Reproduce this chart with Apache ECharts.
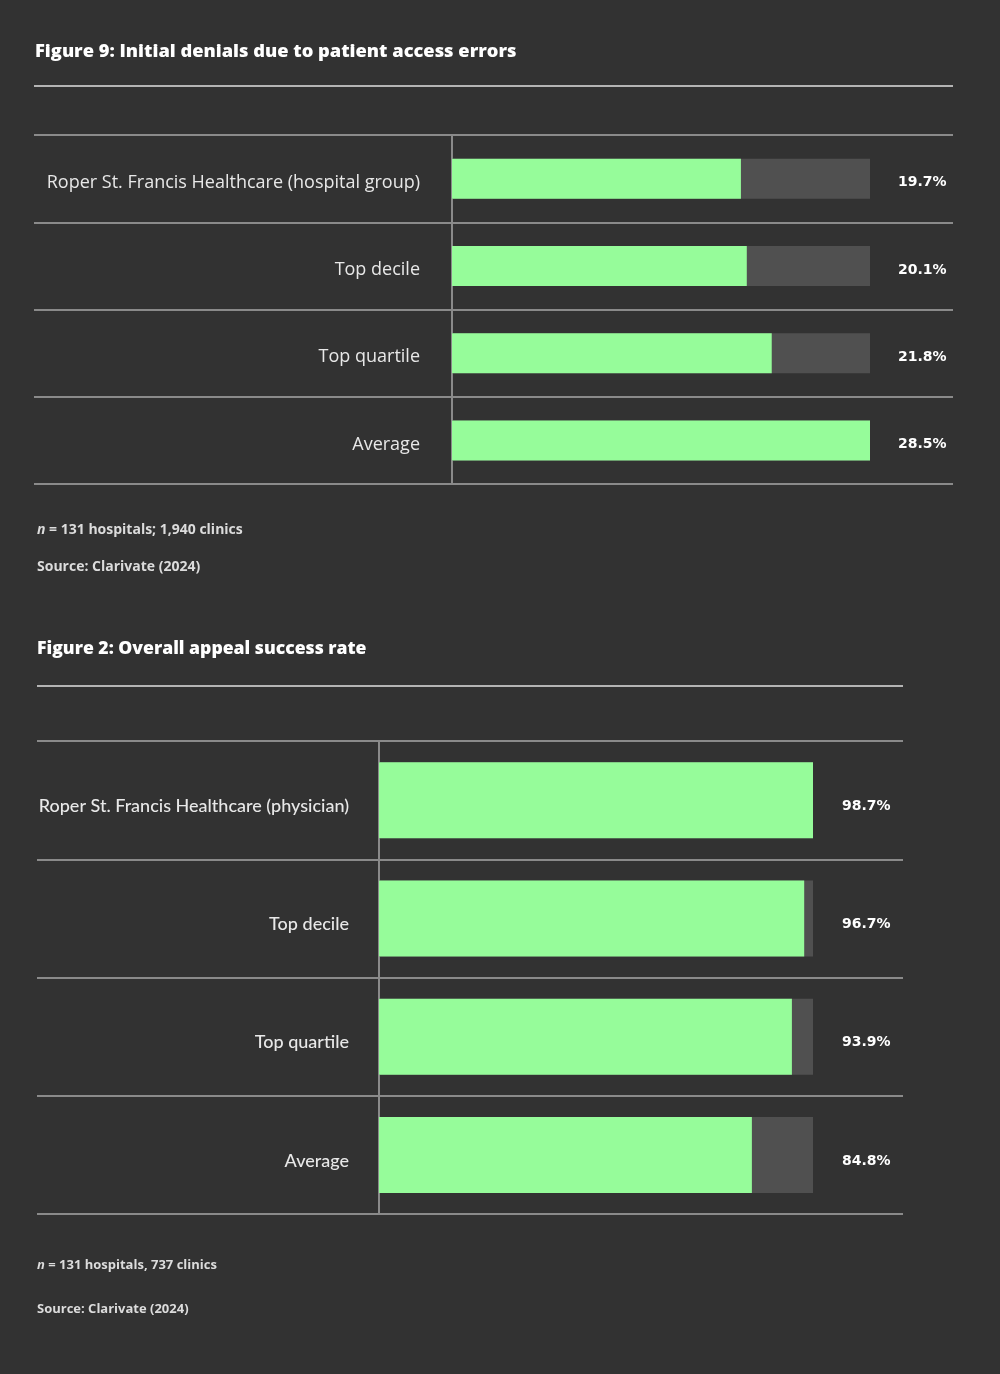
<!DOCTYPE html>
<html>
<head>
<meta charset="utf-8">
<script src="https://cdn.jsdelivr.net/npm/echarts@6/dist/echarts.min.js"></script>
<style>
html,body{margin:0;padding:0;background:#323232;}
#c{width:1000px;height:1374px;}
</style>
</head>
<body>
<div id="c"></div>
<script>
// ---- data ----
const cats1 = ['Roper St. Francis Healthcare (hospital group)', 'Top decile', 'Top quartile', 'Average'];
const vals1 = [19.7, 20.1, 21.8, 28.5];
const cats2 = ['Roper St. Francis Healthcare (physician)', 'Top decile', 'Top quartile', 'Average'];
const vals2 = [98.7, 96.7, 93.9, 84.8];
const title1 = 'Figure 9: Initial denials due to patient access errors';
const title2 = 'Figure 2: Overall appeal success rate';
const note1 = '131 hospitals; 1,940 clinics';
const note2 = '131 hospitals, 737 clinics';
const source = 'Source: Clarivate (2024)';

// ---- layout ----
const L1 = {axisX: 452, trackRight: 870, lineLeft: 34, lineRight: 953, top: 135, bottom: 484, barWidth: 40, labelRight: 420, valueX: 898,
  labelFont: {fontSize: 18, fontFamily: 'Open Sans', fontWeight: 500}, shift: 4};
const L2 = {axisX: 379, trackRight: 813, lineLeft: 37, lineRight: 903, top: 741, bottom: 1214, barWidth: 76, labelRight: 349, valueX: 842,
  labelFont: {fontSize: 18, fontFamily: 'Lato', fontWeight: 500}, shift: 6};

const GREEN = '#96fc9a', TRACK = '#505050', SEP = '#8a8a8a', TXT = '#e8e8e8', NOTE = '#dcdcdc';

function build(idx, cats, vals, L) {
  const vmax = Math.max(...vals);
  const axisMax = vmax * (L.lineRight - L.axisX) / (L.trackRight - L.axisX);
  const grid = {left: L.axisX, width: L.lineRight - L.axisX, top: L.top, height: L.bottom - L.top, containLabel: false};
  const xAxis = {gridIndex: idx, type: 'value', min: 0, max: axisMax, show: false};
  const yAxis = {
    gridIndex: idx, type: 'category', data: cats, inverse: true,
    axisLine: {show: true, lineStyle: {color: SEP, width: 2}},
    axisTick: {show: true, interval: 0, length: L.axisX - L.lineLeft, lineStyle: {color: SEP, width: 2}},
    splitLine: {show: true, interval: 0, lineStyle: {color: SEP, width: 2}},
    axisLabel: Object.assign({margin: L.axisX - L.labelRight, color: TXT, interval: 0,
      verticalAlign: 'top', lineHeight: L.shift * 2}, L.labelFont)
  };
  const track = {
    type: 'bar', xAxisIndex: idx, yAxisIndex: idx, barWidth: L.barWidth, barGap: '-100%',
    data: cats.map(() => vmax), itemStyle: {color: TRACK}, silent: true,
    label: {show: true, position: 'right', distance: L.valueX - L.trackRight, offset: [0, L.shift],
      formatter: p => vals[p.dataIndex].toFixed(1) + '%',
      color: '#ffffff', fontSize: 14, fontWeight: 'bold', fontFamily: 'DejaVu Sans'}
  };
  const bars = {
    type: 'bar', xAxisIndex: idx, yAxisIndex: idx, barWidth: L.barWidth, barGap: '-100%',
    data: vals, itemStyle: {color: GREEN}, z: 3
  };
  return {grid, xAxis, yAxis, series: [track, bars]};
}

const a = build(0, cats1, vals1, L1);
const b = build(1, cats2, vals2, L2);

function hline(x1, x2, y, color) {
  return {type: 'line', shape: {x1, y1: y, x2, y2: y}, style: {stroke: color, lineWidth: 2}, silent: true};
}
function text(x, y, t, font, color) {
  return {type: 'text', x, y, style: {text: t, fill: color, font, verticalAlign: 'middle'}, silent: true};
}
function note(x, y, t, size) {
  return {type: 'text', x, y, style: {
    text: '{i|n} = ' + t,
    rich: {i: {fontStyle: 'italic', fontSize: size, fontFamily: 'Open Sans', fill: NOTE, fontWeight: 'bold'}},
    fill: NOTE, font: 'bold ' + size + 'px "Open Sans"', verticalAlign: 'middle'}, silent: true};
}

const chart = echarts.init(document.getElementById('c'), null, {renderer: 'canvas'});
chart.setOption({
  backgroundColor: '#323232',
  animation: false,
  grid: [a.grid, b.grid],
  xAxis: [a.xAxis, b.xAxis],
  yAxis: [a.yAxis, b.yAxis],
  series: [...a.series, ...b.series],
  graphic: [
    text(35, 52, title1, '800 18.3px "Open Sans"', '#ffffff'),
    hline(L1.lineLeft, L1.lineRight, 86, '#b4b4b4'),
    note(37, 530, note1, 14),
    text(37, 567, source, 'bold 14px "Open Sans"', NOTE),
    text(37, 649, title2, '800 17.6px "Open Sans"', '#ffffff'),
    hline(L2.lineLeft, L2.lineRight, 686, '#b4b4b4'),
    note(37, 1265, note2, 13),
    text(37, 1309, source, 'bold 13px "Open Sans"', NOTE)
  ]
});
</script>
</body>
</html>
